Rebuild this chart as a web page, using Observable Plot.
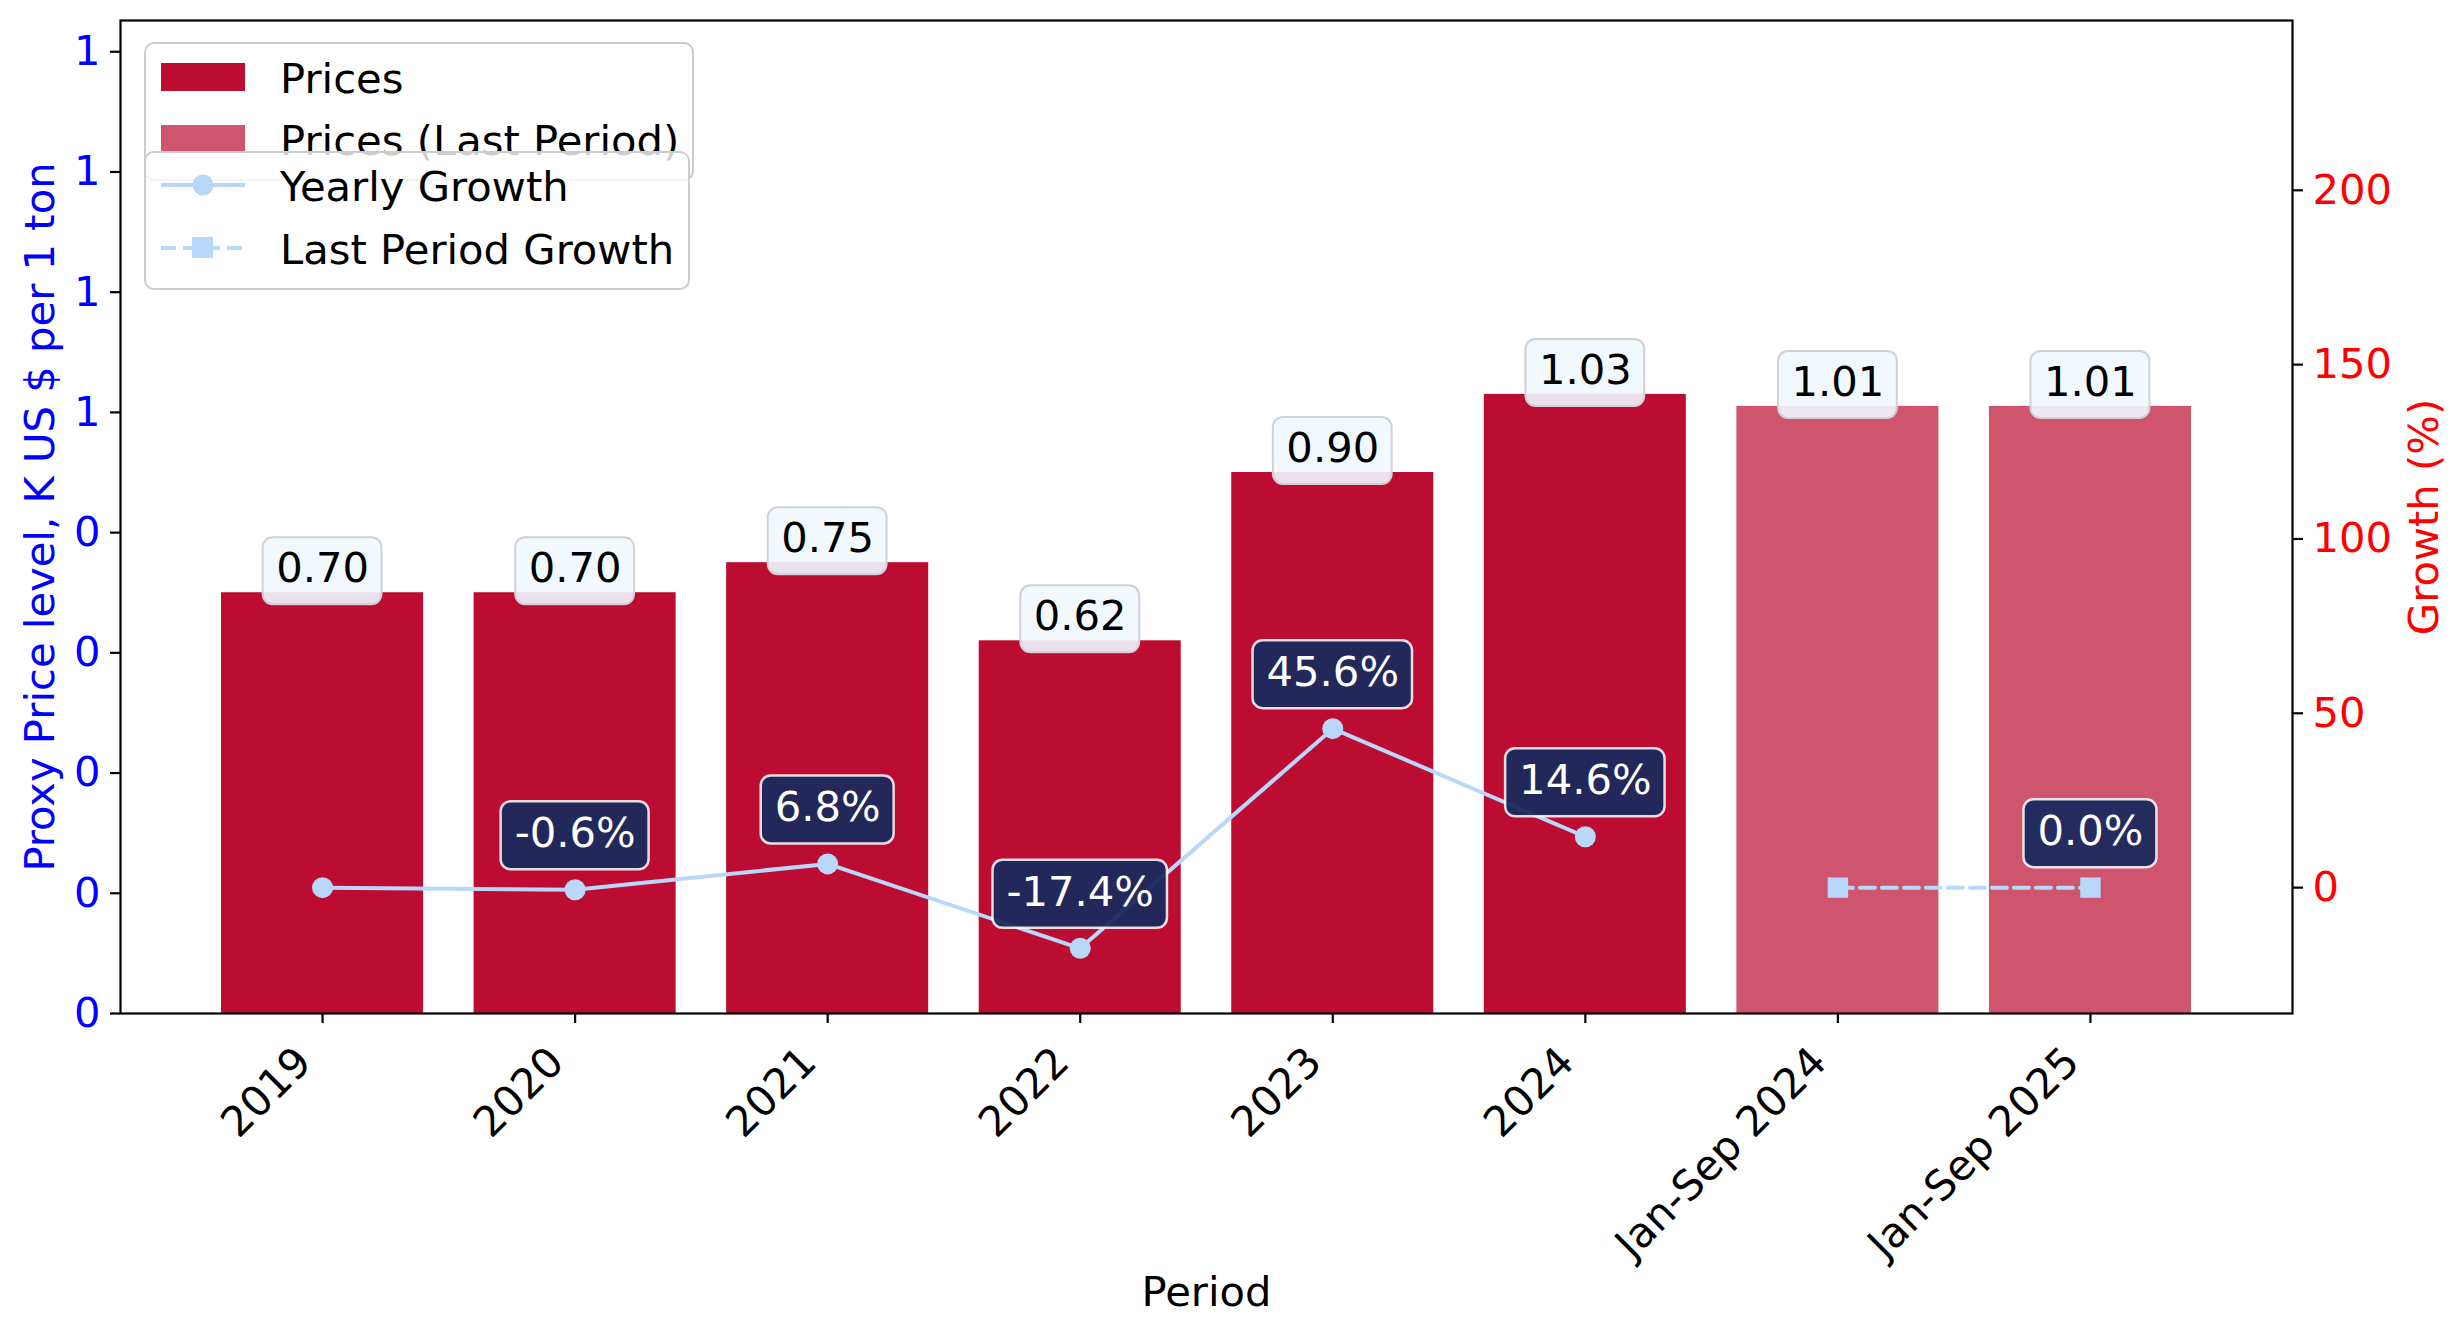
<!DOCTYPE html>
<html><head><meta charset="utf-8">
<script src="https://cdn.jsdelivr.net/npm/d3@7"></script>
<script src="https://cdn.jsdelivr.net/npm/@observablehq/plot@0.6"></script>
<style>
body{margin:0;background:white}
#chart{position:relative;width:2464px;height:1336px}
</style>
</head><body><div id="chart"></div>
<script>
// ---- data ----
const periods = ["2019","2020","2021","2022","2023","2024","Jan-Sep 2024","Jan-Sep 2025"];
const prices = [0.70,0.70,0.75,0.62,0.90,1.03,1.01,1.01];
const isLastPeriod = [false,false,false,false,false,false,true,true];
const yearlyPeriods = ["2019","2020","2021","2022","2023","2024"];
const yearlyGrowth = [0.0,-0.6,6.8,-17.4,45.6,14.6];
const yearlyGrowthLabels = [null,"-0.6%","6.8%","-17.4%","45.6%","14.6%"];
const lastPeriods = ["Jan-Sep 2024","Jan-Sep 2025"];
const lastGrowth = [0.0,0.0];
const lastGrowthLabels = [null,"0.0%"];
const priceTicks = [0,0.2,0.4,0.6,0.8,1.0,1.2,1.4,1.6];
const growthTicks = [0,50,100,150,200];
const legendBarLabels = ["Prices","Prices (Last Period)"];
const legendLineLabels = ["Yearly Growth","Last Period Growth"];
const yLabelLeft = "Proxy Price level, K US $ per 1 ton";
const yLabelRight = "Growth (%)";
const xLabel = "Period";

// ---- styling ----
const W = 2464, H = 1336;
const mL = 120, mR = 172, mT = 20, mB = 323;
const barColor = "#BC0C32", lastColor = "#CF556F", lineColor = "#B9D7F8";
const FONT = "DejaVu Sans", FS = 41.7;
const priceDomain = [0, 1.652];
const growthDomain = [-36.1, 248.7];
const g2y = g => (g - growthDomain[0]) / (growthDomain[1] - growthDomain[0]) * (priceDomain[1] - priceDomain[0]) + priceDomain[0];
const y2g = y => (y - priceDomain[0]) / (priceDomain[1] - priceDomain[0]) * (growthDomain[1] - growthDomain[0]) + growthDomain[0];

const bars = periods.map((p, i) => ({period: p, price: prices[i], last: isLastPeriod[i]}));
const yearly = yearlyPeriods.map((p, i) => ({period: p, g: yearlyGrowth[i], label: yearlyGrowthLabels[i]}));
const lastP = lastPeriods.map((p, i) => ({period: p, g: lastGrowth[i], label: lastGrowthLabels[i]}));
const growthLabels = [...yearly, ...lastP].filter(d => d.label);

const bw = d3.scaleBand().domain(periods).range([mL, W - mR]).paddingInner(0.2).paddingOuter(0.4).bandwidth();
const ctx = document.createElement("canvas").getContext("2d");
ctx.font = `${FS}px "${FONT}"`;
const tw = s => ctx.measureText(s).width;

const priceInset = (bw - (tw("0.00") + 26)) / 2;

const growthBoxMarks = growthLabels.map(d => {
  const inset = (bw - (tw(d.label) + 27)) / 2;
  return Plot.barY([d], {x: "period", y1: d => g2y(d.g), y2: d => g2y(d.g),
    insetTop: -34, insetBottom: -34, insetLeft: inset, insetRight: inset, dy: -54,
    rx: 10, fill: "#1A2A5E", fillOpacity: 0.95, stroke: "white", strokeOpacity: 0.85, strokeWidth: 2.5});
});

const chart = Plot.plot({
  width: W, height: H,
  marginLeft: mL, marginRight: mR, marginTop: mT, marginBottom: mB,
  style: {fontFamily: FONT, fontSize: FS + "px", background: "white", overflow: "visible"},
  x: {domain: periods, paddingInner: 0.2, paddingOuter: 0.4, round: false, label: null},
  y: {domain: priceDomain, label: null},
  marks: [
    Plot.barY(bars, {x: "period", y: "price", fill: d => d.last ? lastColor : barColor}),
    // price labels
    Plot.barY(bars, {x: "period", y1: "price", y2: "price", insetTop: -33.5, insetBottom: -33.5,
      insetLeft: priceInset, insetRight: priceInset, dy: -21.5, rx: 10,
      fill: "#F0F8FF", fillOpacity: 0.9, stroke: "#cfd0d8", strokeWidth: 2}),
    Plot.text(bars, {x: "period", y: "price", text: d => d.price.toFixed(2), dy: -24, fill: "black"}),
    // growth lines
    Plot.line(yearly, {x: "period", y: d => g2y(d.g), stroke: lineColor, strokeWidth: 4}),
    Plot.dot(yearly, {x: "period", y: d => g2y(d.g), r: 10.5, fill: lineColor}),
    Plot.line(lastP, {x: "period", y: d => g2y(d.g), stroke: lineColor, strokeWidth: 4, strokeDasharray: "15,7"}),
    Plot.dot(lastP, {x: "period", y: d => g2y(d.g), r: 11.5, symbol: "square", fill: lineColor}),
    ...growthBoxMarks,
    Plot.text(growthLabels, {x: "period", y: d => g2y(d.g), text: "label", dy: -56, fill: "white"}),
    // axes
    Plot.axisX({tickSize: 10, tickFormat: () => "", strokeWidth: 2.2, color: "black", label: null}),
    Plot.axisX({tickSize: 0, tickPadding: 30, tickRotate: -45, textAnchor: "end", lineAnchor: "top", dx: -30, color: "black", label: null}),
    Plot.axisY({anchor: "left", ticks: priceTicks, tickSize: 10, tickFormat: () => "", strokeWidth: 2.2, color: "black", label: null}),
    Plot.axisY({anchor: "left", ticks: priceTicks, tickSize: 0, tickPadding: 20, tickFormat: d => String(Math.trunc(d + 1e-9)), color: "blue", label: null}),
    Plot.axisY({anchor: "right", ticks: growthTicks.map(g2y), tickSize: 10, tickFormat: () => "", strokeWidth: 2.2, color: "black", label: null}),
    Plot.axisY({anchor: "right", ticks: growthTicks.map(g2y), tickSize: 0, tickPadding: 20, tickFormat: d => String(Math.round(y2g(d))), color: "red", label: null}),
    Plot.frame({stroke: "black", strokeWidth: 2.2}),
    Plot.text([yLabelLeft], {text: d => d, frameAnchor: "left", textAnchor: "middle", lineAnchor: "middle", rotate: -90, dx: -80, fill: "blue"}),
    Plot.text([yLabelRight], {text: d => d, frameAnchor: "right", textAnchor: "middle", lineAnchor: "middle", rotate: -90, dx: 132, fill: "red"}),
    Plot.text([xLabel], {text: d => d, frameAnchor: "bottom", textAnchor: "middle", lineAnchor: "middle", dy: 279, fill: "black"})
  ]
});

// ---- legends ----
const L = d3.select(chart).append("g").attr("font-family", FONT).attr("font-size", FS).attr("text-anchor", "start");
function legendBox(x, y, w, h) {
  L.append("rect").attr("x", x).attr("y", y).attr("width", w).attr("height", h).attr("rx", 9)
    .attr("fill", "white").attr("fill-opacity", 0.8).attr("stroke", "#cccccc").attr("stroke-width", 2);
}
function legendText(x, y, s) {
  L.append("text").attr("x", x).attr("y", y).attr("dy", "0.36em").attr("fill", "black").attr("text-anchor", "start").text(s);
}
legendBox(145, 43, 548, 137);
L.append("rect").attr("x", 161).attr("y", 63).attr("width", 84).attr("height", 28).attr("fill", barColor);
legendText(280, 77.5, legendBarLabels[0]);
L.append("rect").attr("x", 161).attr("y", 125).attr("width", 84).attr("height", 28).attr("fill", lastColor);
legendText(280, 139.5, legendBarLabels[1]);
legendBox(145, 152, 544, 137);
L.append("line").attr("x1", 161).attr("x2", 245).attr("y1", 185).attr("y2", 185).attr("stroke", lineColor).attr("stroke-width", 4);
L.append("circle").attr("cx", 203).attr("cy", 185).attr("r", 10.5).attr("fill", lineColor);
legendText(280, 185.5, legendLineLabels[0]);
L.append("line").attr("x1", 161).attr("x2", 245).attr("y1", 248).attr("y2", 248).attr("stroke", lineColor).attr("stroke-width", 4).attr("stroke-dasharray", "15,7");
L.append("rect").attr("x", 192).attr("y", 237).attr("width", 21).attr("height", 21).attr("fill", lineColor);
legendText(280, 248.5, legendLineLabels[1]);

document.getElementById("chart").appendChild(chart);
</script>
</body></html>
